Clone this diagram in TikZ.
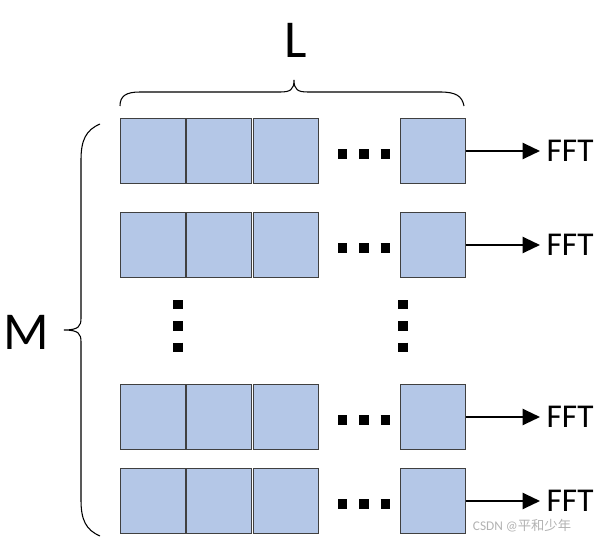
\documentclass[tikz,border=0pt]{standalone}
\usepackage{fontspec}
\setmainfont{Carlito}
\newfontfamily\cjk{Noto Sans CJK SC}
\usetikzlibrary{arrows.meta, positioning}

\definecolor{cellblue}{HTML}{B4C7E7}
\definecolor{celledge}{HTML}{404040}

\begin{document}
\begin{tikzpicture}[x=0.0264cm,y=-0.0264cm,>={Triangle[length=13pt,width=12pt]}]
	\tikzset{cell/.style={draw=celledge,fill=cellblue,line width=0.8pt,minimum size=1.74cm,inner sep=0pt,outer sep=0pt}}
	\tikzset{dot/.style={line width=7pt,dash pattern=on 7pt off 9pt}}
	\tikzset{lbl/.style={font=\fontsize{25}{28}\selectfont}}
	\useasboundingbox (0,0) rectangle (608,544);

	% rows of cells
	\foreach \r/\y in {1/151,2/245,3/417,4/501}{
		\node[cell] (a\r) at (153,\y) {};
		\node[cell] (b\r) at (219,\y) {};
		\node[cell] (c\r) at (286,\y) {};
		\node[cell] (d\r) at (433,\y) {};
		\draw[dot] (338,\y+3) -- (392,\y+3);
		\coordinate (t\r) at (540,\y);
		\node[lbl,right] (f\r) at (542,\y) {FFT};
		\draw[->,line width=1.6pt] (d\r.east) -- (t\r);
	}
	% vertical dots
	\draw[dot] (178,300) -- (178,355);
	\draw[dot] (403,300) -- (403,355);

	% braces
	\draw[line width=0.8pt] (120,106) .. controls (120,96) and (126,92) .. (140,92)
		-- (280,92) .. controls (290,92) and (294,90) .. (294,80)
		.. controls (294,90) and (298,92) .. (308,92) -- (440,92)
		.. controls (456,92) and (462,96) .. (464,106);
	\draw[line width=0.8pt] (100,124) .. controls (86,130) and (81,140) .. (81,160)
		-- (81,318) .. controls (81,326) and (79,330) .. (64,330)
		.. controls (79,330) and (81,334) .. (81,342)
		-- (81,500) .. controls (81,520) and (86,530) .. (100,536);
	\node[font=\fontsize{40}{44}\selectfont] (L) at (296,40) {L};
	\node[font=\fontsize{40}{44}\selectfont] (M) at (26,332) {M};
	\node[text=gray!60,font=\fontsize{10}{12}\selectfont] (wm) at (522,526) {CSDN @\cjk 平和少年};
\end{tikzpicture}
\end{document}
